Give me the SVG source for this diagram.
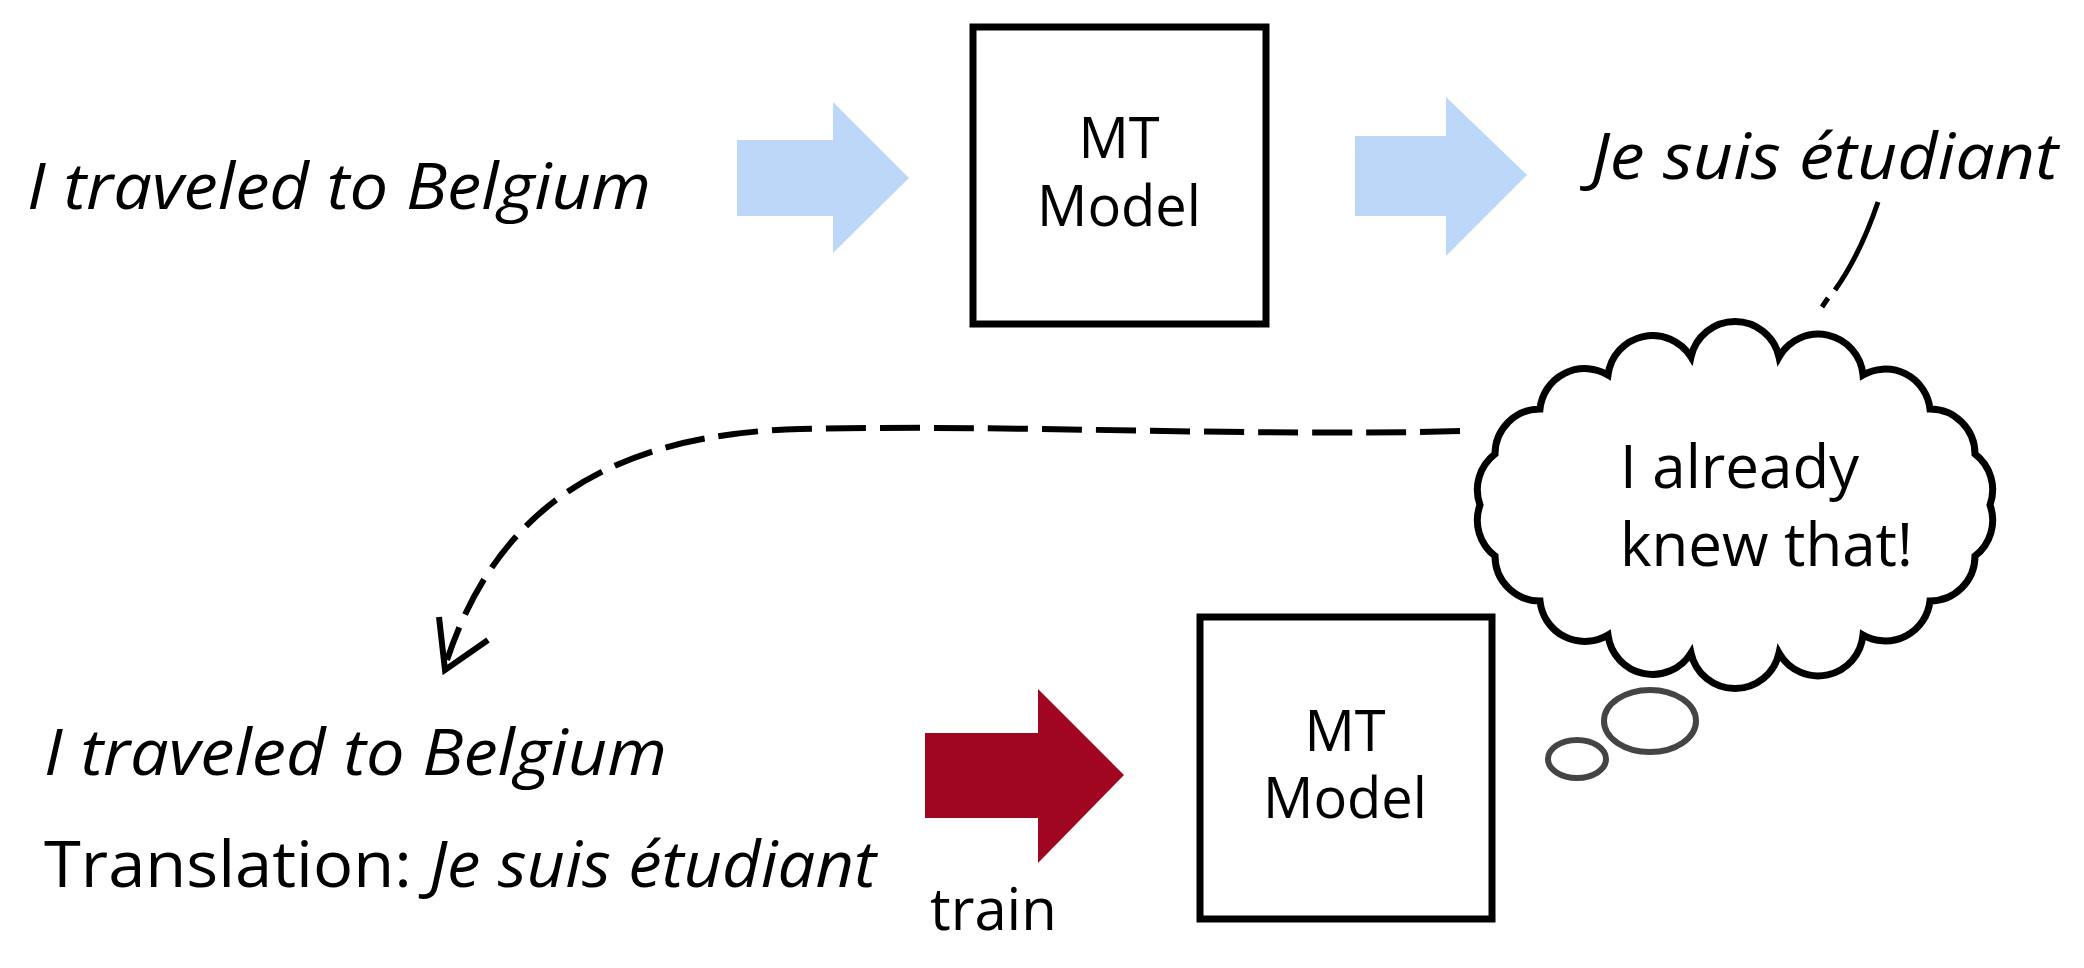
<svg xmlns="http://www.w3.org/2000/svg" width="2084" height="968" viewBox="0 0 2084 968">
<style>
text{font-family:"Open Sans","Liberation Sans",sans-serif;fill:#000}
.it{font-style:italic;font-size:64px}
.lb{font-size:56px;text-anchor:middle}
.box{fill:#fff;stroke:#000;stroke-width:7}
.blue{fill:#BDD7F8}
</style>
<rect width="2084" height="968" fill="#fff"/>
<g id="src1"><text class="it" x="27" y="209" textLength="624" lengthAdjust="spacingAndGlyphs">I traveled to Belgium</text></g>
<g id="model1"><rect class="box" x="973" y="27" width="293" height="297"/><text class="lb" x="1119" y="158">MT</text><text class="lb" x="1119" y="226">Model</text></g>
<g id="out1"><text class="it" x="1591" y="179" textLength="467" lengthAdjust="spacingAndGlyphs">Je suis étudiant</text></g>
<g id="cloud">
<path d="M1990,505 A45,45 0 0 1 1975,556 A45,45 0 0 1 1930,601 A45,45 0 0 1 1863,635 A45,45 0 0 1 1779,653 A45,45 0 0 1 1691,653 A45,45 0 0 1 1608,635 A45,45 0 0 1 1540,601 A45,45 0 0 1 1495,556 A45,45 0 0 1 1480,505 A45,45 0 0 1 1495,454 A45,45 0 0 1 1540,409 A45,45 0 0 1 1608,375 A45,45 0 0 1 1691,357 A45,45 0 0 1 1779,357 A45,45 0 0 1 1863,375 A45,45 0 0 1 1930,409 A45,45 0 0 1 1975,454 A45,45 0 0 1 1990,505 Z" fill="#fff" stroke="#000" stroke-width="7"/>
<text x="1620" y="488" style="font-size:60px">I already</text>
<text x="1620" y="566" style="font-size:60px">knew that!</text>
<ellipse cx="1650" cy="721" rx="46" ry="31" fill="none" stroke="#444" stroke-width="6"/>
<ellipse cx="1577" cy="759" rx="29" ry="19" fill="none" stroke="#444" stroke-width="6"/>
</g>
<g id="src2"><text class="it" x="44" y="775" textLength="623" lengthAdjust="spacingAndGlyphs">I traveled to Belgium</text>
<text x="44" y="887" style="font-size:64px" textLength="832" lengthAdjust="spacingAndGlyphs">Translation: <tspan font-style="italic">Je suis étudiant</tspan></text></g>
<g id="model2"><rect class="box" x="1200" y="617" width="292" height="302"/><text class="lb" x="1345" y="751">MT</text><text class="lb" x="1345" y="818">Model</text></g>
<g id="connectors">
<polygon class="blue" points="737,140 833,140 833,102 909,178 833,253 833,216 737,216"/>
<polygon class="blue" points="1355,136 1446,136 1446,97 1527,175 1446,256 1446,216 1355,216"/>
<polygon fill="#A0061F" points="925,733 1038,733 1038,689 1124,775 1038,863 1038,818 925,818"/>
<text x="930" y="930" style="font-size:58px">train</text>
<path d="M1878,202 Q1860,255 1835,290" fill="none" stroke="#000" stroke-width="5"/>
<path d="M1828,298 L1822,307" fill="none" stroke="#000" stroke-width="5"/>
<path d="M1460,431 C1250,437 1000,424 800,429 C620,434 500,500 447,660" fill="none" stroke="#000" stroke-width="6" stroke-dasharray="40 14"/>
<path d="M439,617 L445,670 L488,640" fill="none" stroke="#000" stroke-width="6"/>
</g>
</svg>
